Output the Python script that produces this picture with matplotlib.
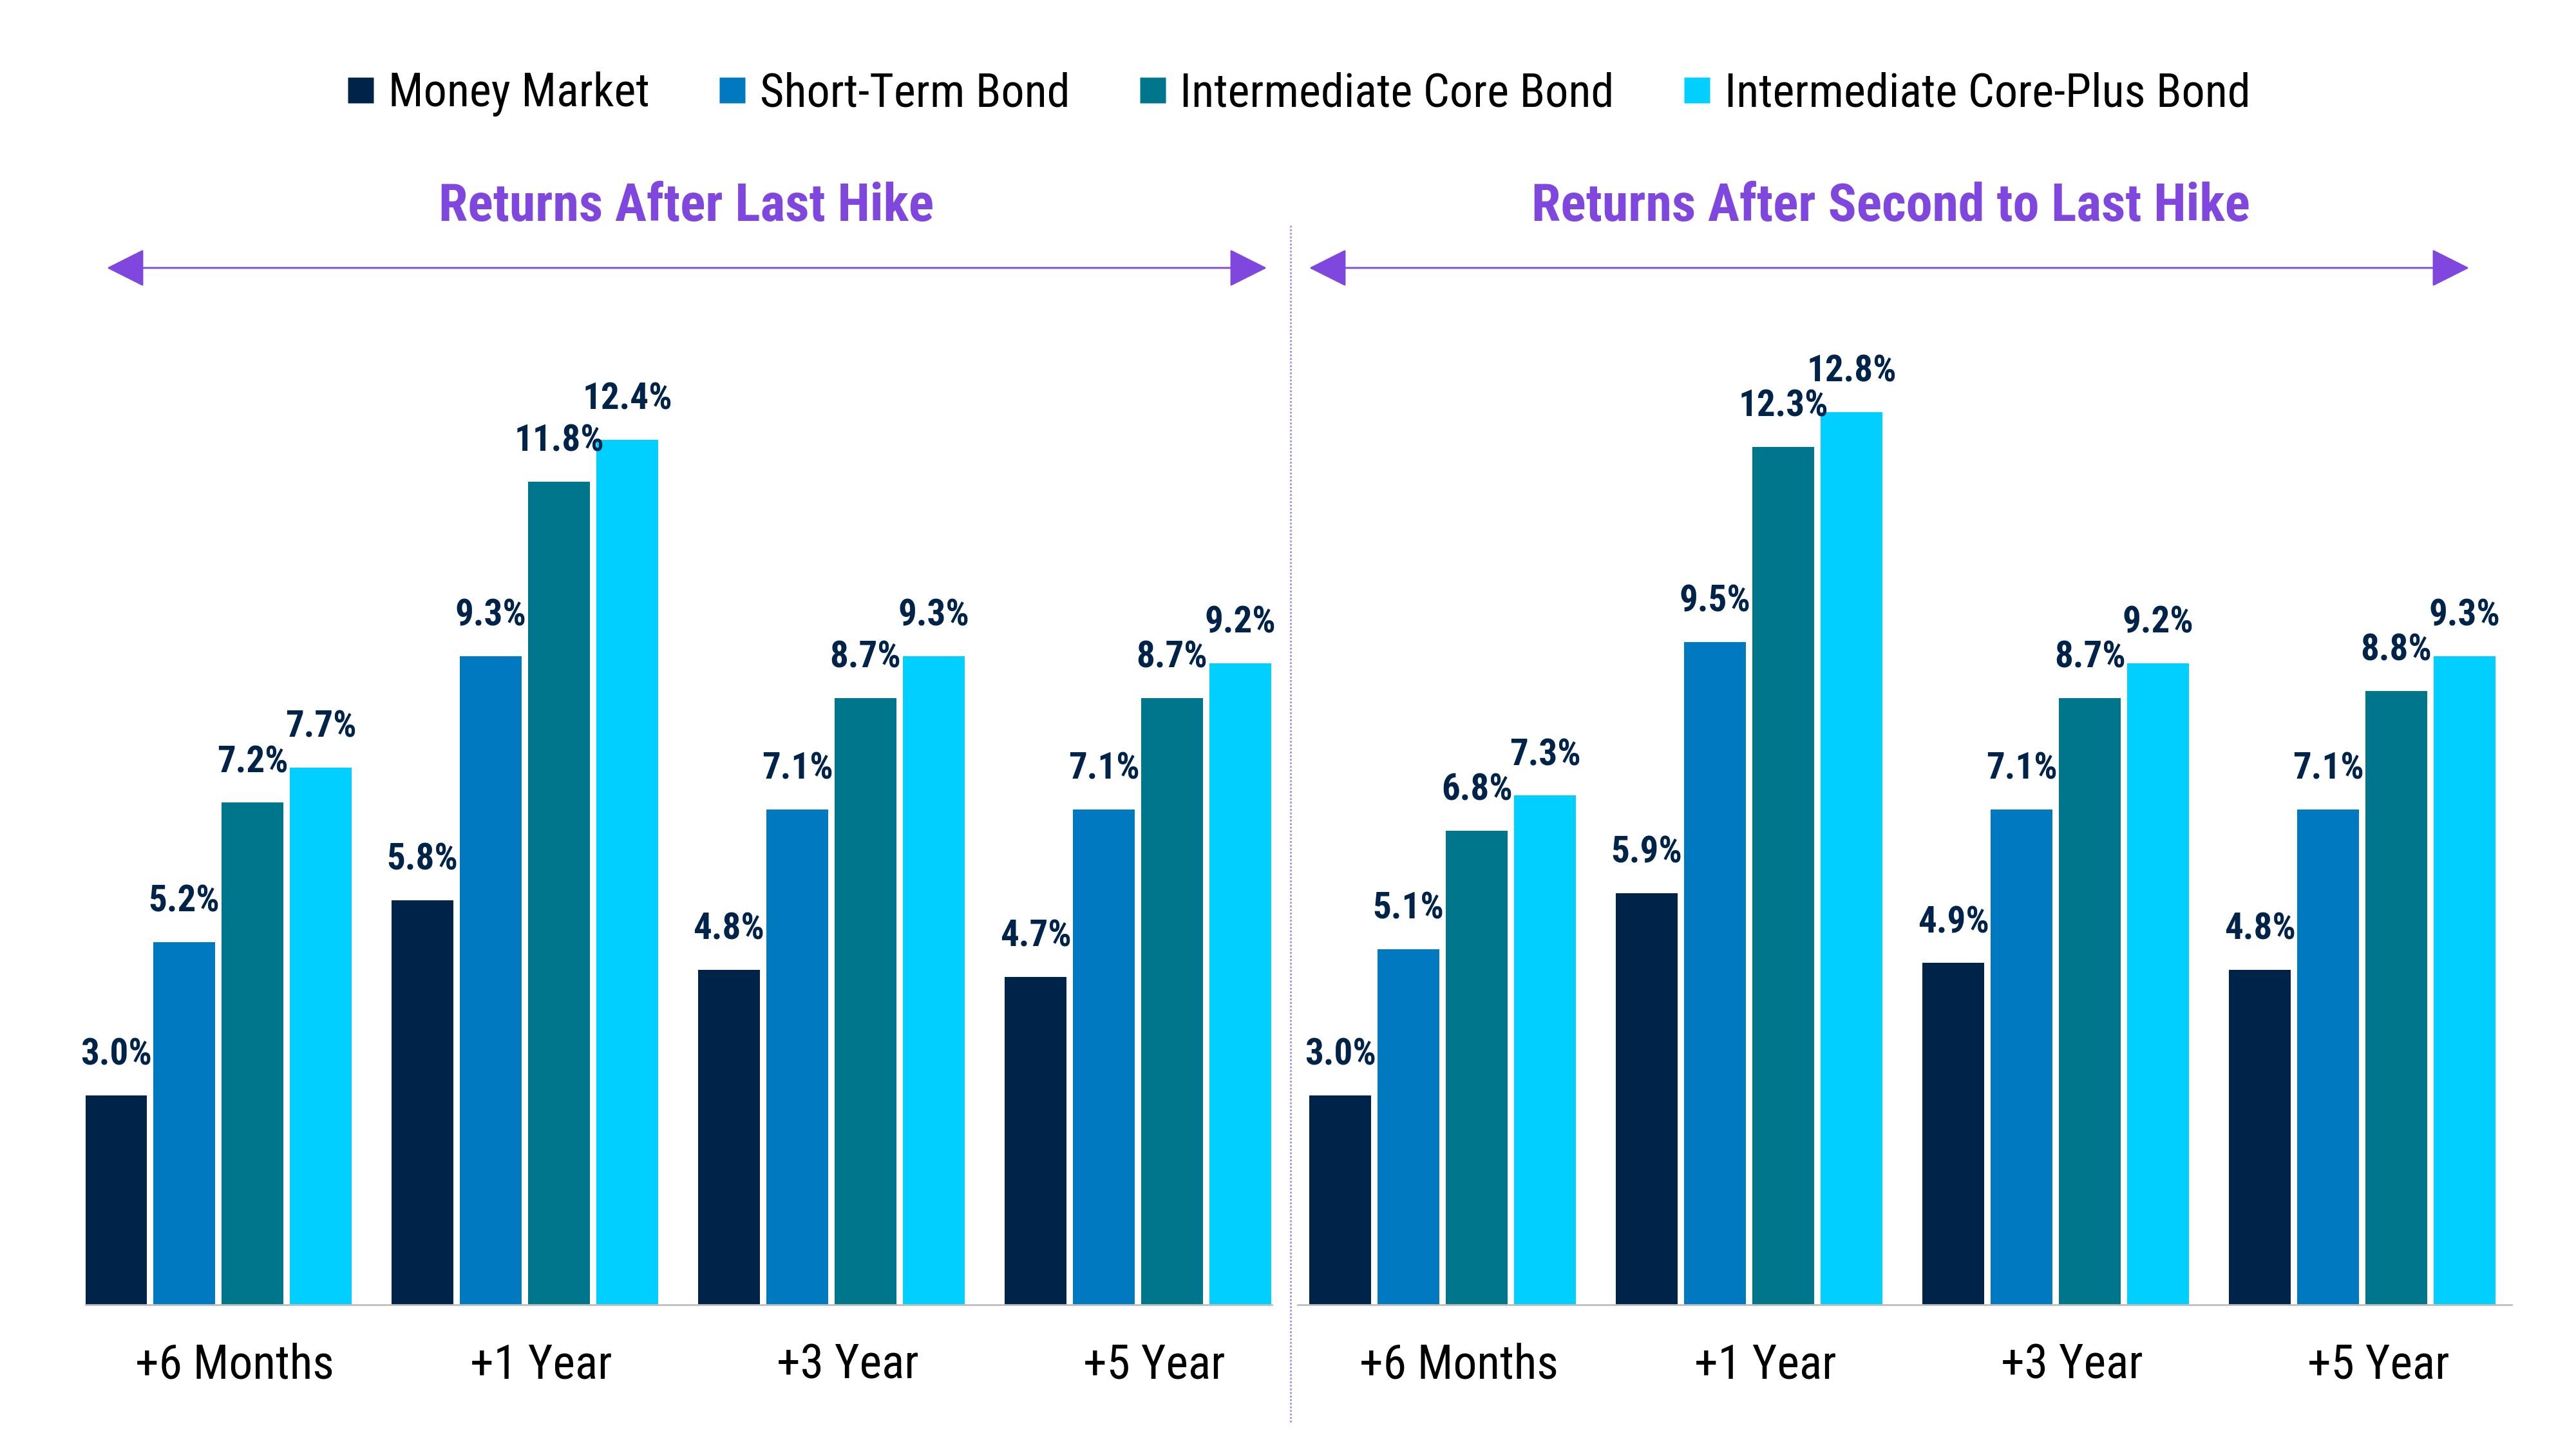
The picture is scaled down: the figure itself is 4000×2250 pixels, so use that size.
import os
import matplotlib
matplotlib.use("Agg")
import matplotlib.pyplot as plt
from matplotlib import font_manager as fm
from matplotlib.patches import FancyArrowPatch, ArrowStyle
from matplotlib.lines import Line2D
import matplotlib.transforms as mtransforms
import numpy as np

# ---------------- data ----------------
periods = ["+6 Months", "+1 Year", "+3 Year", "+5 Year"]
series_names = ["Money Market", "Short-Term Bond", "Intermediate Core Bond", "Intermediate Core-Plus Bond"]
colors = ["#002349", "#0079C1", "#00768C", "#00CFFF"]

last_money_market = [3.0, 5.8, 4.8, 4.7]
last_short_term = [5.2, 9.3, 7.1, 7.1]
last_core = [7.2, 11.8, 8.7, 8.7]
last_core_plus = [7.7, 12.4, 9.3, 9.2]

second_money_market = [3.0, 5.9, 4.9, 4.8]
second_short_term = [5.1, 9.5, 7.1, 7.1]
second_core = [6.8, 12.3, 8.7, 8.8]
second_core_plus = [7.3, 12.8, 9.2, 9.3]

panel_titles = ["Returns After Last Hike", "Returns After Second to Last Hike"]

# ---------------- fonts ----------------
def find_font(bold):
    prefs = ["robotocondensed", "liberationsansnarrow", "notosanscondensed", "opensanscondensed",
             "dejavusanscondensed", "condensed", "narrow"]
    best = None
    best_rank = 999
    for f in fm.fontManager.ttflist:
        b = os.path.basename(f.fname).lower().replace("-", "").replace("_", "")
        if "italic" in b or "oblique" in b:
            continue
        if "semicondensed" in b or "extracondensed" in b or "ultracondensed" in b:
            continue
        if not ("condensed" in b or "narrow" in b):
            continue
        w = f.weight
        try:
            w = int(w)
        except Exception:
            w = {"bold": 700, "normal": 400, "regular": 400}.get(str(w), 400)
        if bold and w != 700:
            continue
        if not bold and w != 400:
            continue
        for r, p in enumerate(prefs):
            if p in b:
                if r < best_rank:
                    best_rank = r
                    best = f.fname
                break
    if best:
        return fm.FontProperties(fname=best)
    return fm.FontProperties(family="Liberation Sans", weight="bold" if bold else "normal")

fp_bold = find_font(True)
fp_reg = find_font(False)

W, H = 4000, 2250
fig = plt.figure(figsize=(20, 11.25), dpi=200)
fig.patch.set_facecolor("white")

px_per_pct = 108.3
ymax = 14.0
bottom = (H - 2026) / H
height = ymax * px_per_pct / H

panels = [
    dict(left=133, right=1975, xlim=(-0.433, 3.437),
         data=[last_money_market, last_short_term, last_core, last_core_plus]),
    dict(left=2015, right=3900, xlim=(-0.473, 3.487),
         data=[second_money_market, second_short_term, second_core, second_core_plus]),
]

bar_w = 0.2017
bar_step = 0.2227
x = np.arange(len(periods))

for p in panels:
    ax = fig.add_axes([p["left"] / W, bottom, (p["right"] - p["left"]) / W, height])
    ax.set_xlim(*p["xlim"])
    ax.set_ylim(0, ymax)
    for i, vals in enumerate(p["data"]):
        xs = x + (i - 1.5) * bar_step
        ax.bar(xs, vals, width=bar_w, color=colors[i], zorder=2)
        for xi, v in zip(xs, vals):
            ax.annotate(f"{v:.1f}%", (xi, v), xytext=(0, 17), textcoords="offset points",
                        ha="center", va="baseline", color="#002349",
                        fontproperties=fp_bold, fontsize=20.5)
    ax.set_xticks(x)
    ax.set_xticklabels(periods, fontproperties=fp_reg, fontsize=26.5, color="black")
    ax.tick_params(axis="x", length=0, pad=21)
    shift = mtransforms.ScaledTranslation(9 / 72, 0, fig.dpi_scale_trans)
    for lab in ax.get_xticklabels():
        lab.set_transform(lab.get_transform() + shift)
    ax.set_yticks([])
    for s in ["top", "right", "left"]:
        ax.spines[s].set_visible(False)
    ax.spines["bottom"].set_color("#BFBFBF")
    ax.spines["bottom"].set_linewidth(1.0)
    ax.set_facecolor("none")

# titles
purple = "#7F47DD"
title_x = [1066, 2936]
for t, tx in zip(panel_titles, title_x):
    fig.text(tx / W, 1 - 321 / H, t, ha="center", va="center", color=purple,
             fontproperties=fp_bold, fontsize=29.5)

# arrows
arrow_spans = [(166, 1967), (2033, 3834)]
ay = 1 - 416 / H
for a, b in arrow_spans:
    arr = FancyArrowPatch((a / W, ay), (b / W, ay), transform=fig.transFigure,
                          arrowstyle=ArrowStyle("<|-|>", head_length=18.7, head_width=9.4),
                          mutation_scale=1, lw=1.0, color=purple, shrinkA=0, shrinkB=0)
    fig.add_artist(arr)

# divider
fig.add_artist(Line2D([2004 / W, 2004 / W], [1 - 350 / H, 1 - 2210 / H], transform=fig.transFigure,
                      color="#A98BE6", lw=1.0, ls=(0, (1, 1))))

# legend
leg_prop = fp_reg.copy()
leg_prop.set_size(26)
handles = [Line2D([], [], marker="s", ls="none", markersize=14.5, markerfacecolor=c,
                  markeredgecolor="none") for c in colors]
leg = fig.legend(handles, series_names, loc="center", bbox_to_anchor=(2017 / W, 1 - 146 / H),
                 ncol=4, frameon=False, prop=leg_prop,
                 handlelength=0.57, handletextpad=0.3, columnspacing=1.5)

fig.savefig("out.png", dpi=200, facecolor="white")
